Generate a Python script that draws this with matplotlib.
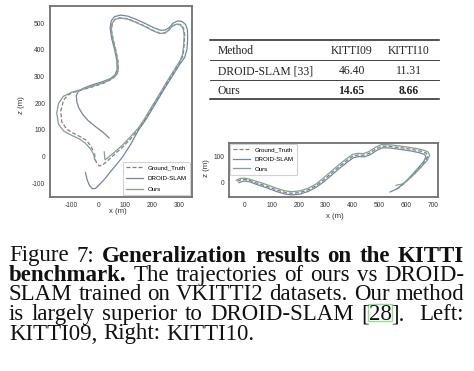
import matplotlib
matplotlib.use("Agg")
import matplotlib.pyplot as plt
from matplotlib.lines import Line2D
from matplotlib.patches import Rectangle

# ---------------- data ----------------
# KITTI09 trajectories (x, z in metres)
gt09_x = [-14, -12, -6, 4, 16, 31, 60, 95, 125, 150, 172, 200, 235, 265, 290, 306, 316, 320, 322, 318, 308, 292, 276, 262, 248, 230, 205, 175, 140, 110, 82, 62, 52, 49, 55, 65, 73, 75, 68, 50, 20, -20, -60, -95, -115, -130, -140, -136, -118, -92, -62, -43, -28, -18]
gt09_z = [12, -8, -25, -35, -31, -19, 8, 40, 72, 102, 135, 182, 240, 290, 330, 355, 380, 420, 455, 480, 494, 497, 489, 473, 463, 462, 472, 488, 504, 516, 520, 514, 498, 475, 440, 400, 360, 325, 305, 290, 275, 262, 250, 240, 230, 210, 170, 130, 103, 87, 72, 60, 40, 20]

droid09_x = [-48, -42, -33, -22, -10, 20, 55, 90, 120, 150, 178, 208, 245, 278, 305, 322, 330, 333, 332, 325, 312, 295, 279, 265, 250, 232, 206, 176, 141, 110, 82, 60, 48, 44, 50, 61, 69, 70, 62, 45, 14, -25, -55, -75, -82, -80, -73, -58, -38, -10, 15, 30, 40]
droid09_z = [-60, -85, -108, -120, -119, -88, -45, -2, 45, 100, 140, 190, 252, 305, 348, 372, 400, 440, 475, 495, 506, 508, 500, 484, 474, 473, 483, 498, 514, 526, 530, 524, 508, 482, 442, 400, 360, 325, 306, 292, 280, 268, 256, 244, 228, 205, 183, 158, 135, 112, 93, 80, 70]

ours09_x = [22, 25, 55, 92, 122, 148, 170, 198, 233, 263, 288, 304, 314, 318, 320, 316, 306, 291, 275, 261, 247, 229, 204, 174, 139, 109, 81, 61, 51, 48, 54, 64, 72, 74, 67, 49, 19, -21, -60, -100, -130, -148, -155, -148, -128, -100, -70, -48, -30, -18, -13]
ours09_z = [18, -12, 12, 45, 77, 106, 138, 185, 243, 293, 333, 358, 383, 420, 455, 480, 493, 496, 488, 472, 462, 461, 471, 487, 503, 515, 519, 513, 497, 474, 440, 400, 360, 325, 306, 291, 277, 264, 252, 241, 226, 200, 163, 120, 95, 80, 66, 50, 30, 10, -12]

# KITTI10 trajectories
gt10_x = [-28, -15, 0, 15, 40, 80, 120, 150, 175, 205, 235, 262, 290, 320, 350, 380, 402, 422, 442, 462, 488, 510, 540, 580, 620, 655, 674, 680, 672, 652, 628, 602, 577, 556]
gt10_z = [5, 11, 12, 9, 0, -13, -28, -37, -40, -37, -27, -13, 8, 34, 60, 84, 100, 104, 103, 110, 127, 137, 136, 131, 125, 118, 111, 100, 82, 58, 32, 6, -16, -28]

droid10_x = [-22, -8, 5, 18, 42, 80, 120, 150, 175, 205, 235, 262, 292, 322, 352, 382, 404, 424, 444, 464, 490, 512, 540, 578, 617, 650, 668, 673, 665, 645, 620, 594, 568, 540]
droid10_z = [0, 5, 6, 3, -6, -19, -34, -43, -46, -43, -33, -19, 2, 28, 54, 78, 94, 98, 97, 104, 121, 131, 130, 125, 119, 112, 106, 97, 80, 56, 28, 0, -22, -35]

ours10_x = [-32, -18, -2, 14, 40, 80, 120, 150, 175, 205, 235, 262, 288, 318, 348, 378, 400, 420, 440, 460, 486, 508, 540, 580, 620, 658, 680, 687, 678, 657, 633, 608, 585, 562]
ours10_z = [9, 16, 17, 14, 6, -7, -22, -31, -34, -31, -21, -7, 14, 40, 66, 90, 106, 110, 109, 116, 133, 143, 142, 137, 131, 124, 116, 103, 84, 60, 35, 12, -5, -10]

series_names = ["Ground_Truth", "DROID-SLAM", "Ours"]

# table
table_header = ["Method", "KITTI09", "KITTI10"]
table_methods = ["DROID-SLAM [33]", "Ours"]
table_kitti09 = [46.40, 14.65]
table_kitti10 = [11.31, 8.66]

# axis ticks
left_xticks = [-100, 0, 100, 200, 300]
left_yticks = [-100, 0, 100, 200, 300, 400, 500]
right_xticks = [0, 100, 200, 300, 400, 500, 600, 700]
right_yticks = [0, 100]

# ---------------- style ----------------
plt.rcParams["axes.unicode_minus"] = False
W, H = 474, 371
fig = plt.figure(figsize=(W / 100, H / 100), dpi=100)

sans = ["Liberation Sans", "DejaVu Sans"]
serif = ["Liberation Serif", "DejaVu Serif"]
c_gt, c_droid, c_ours = "#808080", "#7186a6", "#86a08c"
spine_c = "#707070"


def fx(px):
    return px / W


def fy(py):
    return 1 - py / H


def style_axes(ax, xt, yt, xlim, ylim):
    ax.set_xlim(*xlim)
    ax.set_ylim(*ylim)
    ax.set_xticks(xt)
    ax.set_yticks(yt)
    ax.tick_params(length=0, pad=3.5, labelsize=4.8, labelcolor="#333333")
    for lab in ax.get_xticklabels() + ax.get_yticklabels():
        lab.set_family(sans)
    for s in ax.spines.values():
        s.set_color(spine_c)
        s.set_linewidth(1.3)
    ax.set_facecolor("white")


def draw_traj(ax, gx, gz, dx, dz, ox, oz):
    ax.plot(gx, gz, color=c_gt, lw=0.9, ls=(0, (3.2, 1.6)), label=series_names[0])
    ax.plot(dx, dz, color=c_droid, lw=0.9, label=series_names[1])
    ax.plot(ox, oz, color=c_ours, lw=0.9, label=series_names[2])


# left plot (KITTI09)
axL = fig.add_axes([fx(50), fy(196.7), (191.7 - 50) / W, (196.7 - 6) / H])
draw_traj(axL, gt09_x, gt09_z, droid09_x, droid09_z, ours09_x, ours09_z)
style_axes(axL, left_xticks, left_yticks, (-180, 348), (-150, 564))
axL.set_xlabel("x (m)", fontsize=5.6, family=sans, color="#333333")
axL.set_ylabel("z (m)", fontsize=5.6, family=sans, color="#333333")
axL.xaxis.set_label_coords(0.48, -0.079)
axL.xaxis.label.set_va("center")
axL.yaxis.set_label_coords(-0.2, 0.48)
axL.yaxis.label.set_va("center")
legL = axL.legend(loc="lower right", prop={"family": sans, "size": 4.5},
                  frameon=True, borderaxespad=0.25, handlelength=2.6,
                  labelspacing=0.85, borderpad=0.55)
legL.get_frame().set_edgecolor("#c8c8c8")
legL.get_frame().set_linewidth(0.8)

# right plot (KITTI10)
axR = fig.add_axes([fx(229.3), fy(197.3), (438.3 - 229.3) / W, (197.3 - 142.7) / H])
draw_traj(axR, gt10_x, gt10_z, droid10_x, droid10_z, ours10_x, ours10_z)
style_axes(axR, right_xticks, right_yticks, (-58, 719), (-55, 150))
axR.set_xlabel("x (m)", fontsize=5.6, family=sans, color="#333333")
axR.set_ylabel("z (m)", fontsize=5.6, family=sans, color="#333333")
axR.xaxis.set_label_coords(0.506, -0.355)
axR.xaxis.label.set_va("center")
axR.yaxis.set_label_coords(-0.108, 0.537)
axR.yaxis.label.set_va("center")
legR = axR.legend(loc="upper left", prop={"family": sans, "size": 4.5},
                  frameon=True, borderaxespad=0.15, handlelength=2.6,
                  labelspacing=0.7, borderpad=0.5)
legR.get_frame().set_edgecolor("#c8c8c8")
legR.get_frame().set_linewidth(0.8)

# ---------------- table ----------------
tfs = 8.4
rule_x0, rule_x1 = 210, 439
for ypx, lw in [(40, 1.1), (60, 0.6), (80, 0.6), (99.3, 1.1)]:
    fig.add_artist(Line2D([fx(rule_x0), fx(rule_x1)], [fy(ypx), fy(ypx)],
                          color="#222222", lw=lw, transform=fig.transFigure))
col_method_x, col09_x, col10_x = 218, 351.5, 409
row_base = [54, 74, 94]
fig.text(fx(col_method_x), fy(row_base[0]), table_header[0], family=serif,
         fontsize=tfs, va="baseline", ha="left", color="#222222")
fig.text(fx(col09_x), fy(row_base[0]), table_header[1], family=serif,
         fontsize=tfs, va="baseline", ha="center", color="#222222")
fig.text(fx(col10_x), fy(row_base[0]), table_header[2], family=serif,
         fontsize=tfs, va="baseline", ha="center", color="#222222")
best09 = min(table_kitti09)
best10 = min(table_kitti10)
for i, m in enumerate(table_methods):
    yb = fy(row_base[i + 1])
    fig.text(fx(col_method_x), yb, m, family=serif, fontsize=tfs,
             va="baseline", ha="left", color="#222222")
    v9, v10 = table_kitti09[i], table_kitti10[i]
    fig.text(fx(col09_x), yb, f"{v9:.2f}", family=serif, fontsize=tfs,
             va="baseline", ha="center", color="#222222",
             weight="bold" if v9 == best09 else "normal")
    fig.text(fx(col10_x), yb, f"{v10:.2f}", family=serif, fontsize=tfs,
             va="baseline", ha="center", color="#222222",
             weight="bold" if v10 == best10 else "normal")

# ---------------- caption (justified) ----------------
cfs = 16.5
cap_x0, cap_x1 = 9, 464
cap_base = [261.5, 281.0, 300.5, 320.0, 339.5]
# each line: list of words; each word: list of (text, weight, boxed)
caption_lines = [
    [[("Figure", "normal", False)], [("7:", "normal", False)],
     [("Generalization", "bold", False)], [("results", "bold", False)],
     [("on", "bold", False)], [("the", "bold", False)], [("KITTI", "bold", False)]],
    [[("benchmark.", "bold", False)], [("The", "normal", False)],
     [("trajectories", "normal", False)], [("of", "normal", False)],
     [("ours", "normal", False)], [("vs", "normal", False)], [("DROID-", "normal", False)]],
    [[("SLAM", "normal", False)], [("trained", "normal", False)], [("on", "normal", False)],
     [("VKITTI2", "normal", False)], [("datasets.", "normal", False)],
     [("Our", "normal", False)], [("method", "normal", False)]],
    [[("is", "normal", False)], [("largely", "normal", False)], [("superior", "normal", False)],
     [("to", "normal", False)], [("DROID-SLAM", "normal", False)],
     [("[", "normal", False), ("28", "normal", True), ("].", "normal", False)],
     [("", "normal", False)], [("Left:", "normal", False)]],
    [[("KITTI09,", "normal", False)], [("Right:", "normal", False)], [("KITTI10.", "normal", False)]],
]

renderer = fig.canvas.get_renderer()


def measure(txt, weight):
    if txt == "":
        return 0.0
    t = fig.text(0, 0, txt, family=serif, fontsize=cfs, weight=weight)
    w = t.get_window_extent(renderer=renderer).width
    t.remove()
    return w


em_px = cfs * 100 / 72
space_w = em_px * 0.25
for li, words in enumerate(caption_lines):
    widths = []
    for wd in words:
        widths.append([measure(p[0], p[1]) for p in wd])
    total = sum(sum(w) for w in widths)
    ngaps = len(words) - 1
    if li < len(caption_lines) - 1:
        gap = (cap_x1 - cap_x0 - total) / ngaps
    else:
        gap = space_w
    x = cap_x0
    yb = fy(cap_base[li])
    for wd, ws in zip(words, widths):
        for (txt, weight, boxed), w in zip(wd, ws):
            if txt:
                fig.text(fx(x), yb, txt, family=serif, fontsize=cfs,
                         weight=weight, va="baseline", ha="left",
                         color="#111111")
                if boxed:
                    top = cap_base[li] - em_px * 0.72
                    bot = cap_base[li] + em_px * 0.06
                    fig.add_artist(Rectangle((fx(x - 0.5), fy(bot)), (w + 1) / W,
                                             (bot - top) / H, fill=False,
                                             ec="#8fe08f", lw=1.0,
                                             transform=fig.transFigure))
            x += w
        x += gap

fig.savefig("out.png", dpi=100)
